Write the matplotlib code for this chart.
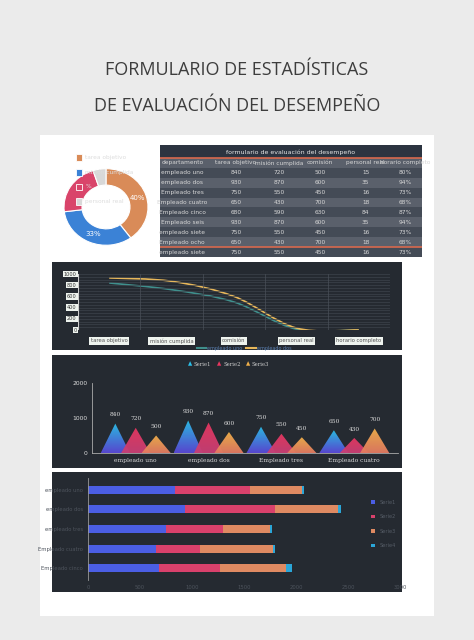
import matplotlib
matplotlib.use("Agg")
import matplotlib.pyplot as plt
import numpy as np
from matplotlib.path import Path
from matplotlib.patches import PathPatch, Polygon, Rectangle
from matplotlib.colors import LinearSegmentedColormap

employees = ["empleado uno", "empleado dos", "Empleado tres", "Empleado cuatro", "Empleado cinco",
             "Empleado seis", "empleado siete", "Empleado ocho", "empleado siete"]
tarea = [840, 930, 750, 650, 680, 930, 750, 650, 750]
mision = [720, 870, 550, 430, 590, 870, 550, 430, 550]
comision = [500, 600, 450, 700, 630, 600, 450, 700, 450]
personal = [15, 35, 16, 18, 84, 35, 16, 18, 16]
horario = ["80%", "94%", "73%", "68%", "87%", "94%", "73%", "68%", "73%"]
columns = ["departamento", "tarea objetivo", "misión cumplida", "comisión", "personal real", "horario completo"]

donut_labels = ["tarea objetivo", "misión cumplida", "%", "personal real"]
donut_vals = [40, 33, 22, 5]
donut_pct = ["40%", "33%", "", ""]

line_cats = ["tarea objetivo", "misión cumplida", "comisión", "personal real", "horario completo"]
line_uno = [840, 720, 500, 15, 0.8]
line_dos = [930, 870, 600, 35, 0.94]

tri_cats = ["empleado uno", "empleado dos", "Empleado tres", "Empleado cuatro"]
tri_s1 = [840, 930, 750, 650]
tri_s2 = [720, 870, 550, 430]
tri_s3 = [500, 600, 450, 700]

bar_cats = ["empleado uno", "empleado dos", "empleado tres", "Empleado cuatro", "Empleado cinco"]
bar_s1 = [840, 930, 750, 650, 680]
bar_s2 = [720, 870, 550, 430, 590]
bar_s3 = [500, 600, 450, 700, 630]
bar_s4 = [15, 35, 16, 18, 64]

W, H = 474, 640
fig = plt.figure(figsize=(4.74, 6.4), dpi=100)
fig.patch.set_facecolor("#ebebeb")

def ax_px(x0, y0, x1, y1, **kw):
    return fig.add_axes([x0 / W, 1 - y1 / H, (x1 - x0) / W, (y1 - y0) / H], **kw)

fig.text(0.5, 1 - 70 / H, "FORMULARIO DE ESTADÍSTICAS", ha="center", va="center",
         fontsize=13, color="#3d3d3d", family="Open Sans")
fig.text(0.5, 1 - 106 / H, "DE EVALUACIÓN DEL DESEMPEÑO", ha="center", va="center",
         fontsize=13, color="#3d3d3d", family="Open Sans")

card = ax_px(40, 135, 434, 616)
card.set_facecolor("white"); card.set_xticks([]); card.set_yticks([])
for s in card.spines.values(): s.set_visible(False)

# --- donut
ad = ax_px(52, 145, 160, 258)
ad.set_facecolor("#18222d")
dcols = ["#d98b58", "#3b82d6", "#d9446a", "#d8d8d8"]
ad.pie(donut_vals, colors=dcols, startangle=90, counterclock=False, radius=1.05, center=(0, -0.15),
       wedgeprops=dict(width=0.45, edgecolor="white", linewidth=0.8))
ad.set_aspect("auto")
ad.set_xlim(-1.35, 1.35); ad.set_ylim(-1.55, 1.55)
ad.set_xticks([]); ad.set_yticks([])
for s in ad.spines.values(): s.set_visible(False)
ang = 90
for v, p in zip(donut_vals, donut_pct):
    mid = np.deg2rad(ang - v * 3.6 / 2); ang -= v * 3.6
    if p:
        ad.text(0.82 * np.cos(mid), 0.82 * np.sin(mid) - 0.15, p, color="white", fontsize=5, ha="center", va="center")
for i, (lab, c) in enumerate(zip(donut_labels, dcols)):
    yy = 1.2 - i * 0.4
    ad.add_patch(Rectangle((-0.75, yy - 0.09), 0.15, 0.18, facecolor=c, edgecolor="white", lw=0.6))
    ad.text(-0.52, yy, lab, color="#dddddd", fontsize=4.2, va="center")

# --- table
at = ax_px(160, 145, 422, 257)
at.set_facecolor("#2c3440"); at.set_xticks([]); at.set_yticks([])
for s in at.spines.values(): s.set_visible(False)
at.set_xlim(0, 1); at.set_ylim(11.3, 0)
at.text(0.5, 0.75, "formulario de evaluación del desempeño", ha="center", va="center", color="#e6e6e6", fontsize=4.5)
colx = [0.085, 0.29, 0.455, 0.61, 0.785, 0.935]
rows = [columns] + [[e, t, m, c, p, h] for e, t, m, c, p, h in zip(employees, tarea, mision, comision, personal, horario)]
for r, row in enumerate(rows):
    y = 1.3 + r
    shade = "#5a606b" if r % 2 == 0 else "#444b56"
    at.add_patch(Rectangle((0, y), 1, 1, facecolor=shade, edgecolor="none"))
    for x, v in zip(colx, row):
        at.text(x, y + 0.5, str(v), ha="center", va="center", color="#d6d6d6", fontsize=4.2)
at.axhline(1.3, color="#d8694e", lw=1.2)
at.axhline(10.3, color="#d8694e", lw=1.2)

# --- line chart
al = ax_px(52, 262, 402, 350)
bg2 = "#252a31"
al.set_facecolor(bg2); al.set_xticks([]); al.set_yticks([])
for s in al.spines.values(): s.set_visible(False)
al2 = ax_px(78, 274, 390, 330)
al2.set_facecolor(bg2)
al2.set_xlim(0, 5); al2.set_ylim(0, 1000)
for yv in np.arange(0, 1001, 50):
    al2.axhline(yv, color="#3d434c", lw=0.5)
for xv in range(6):
    al2.axvline(xv, color="#4a5059", lw=0.5)
def smooth(ax, xs, ys, color):
    pts = np.column_stack([xs, ys])
    verts = [pts[0]]; codes = [Path.MOVETO]
    for i in range(len(pts) - 1):
        p0 = pts[max(i - 1, 0)]; p1 = pts[i]; p2 = pts[i + 1]; p3 = pts[min(i + 2, len(pts) - 1)]
        c1 = p1 + (p2 - p0) / 6; c2 = p2 - (p3 - p1) / 6
        verts += [c1, c2, p2]; codes += [Path.CURVE4] * 3
    ax.add_patch(PathPatch(Path(verts, codes), facecolor="none", edgecolor=color, lw=1.2))
xs = np.arange(len(line_cats)) + 0.5
smooth(al2, xs, line_uno, "#3f8f8c")
smooth(al2, xs, line_dos, "#e7b75a")
al2.set_xticks([]); al2.set_yticks([])
for s in al2.spines.values(): s.set_visible(False)
al2.axvline(0, color="#cccccc", lw=0.8)
for yv in [0, 200, 400, 600, 800, 1000]:
    al2.text(-0.02, yv, str(yv), ha="right", va="center", fontsize=3.6, color="#333",
             bbox=dict(boxstyle="square,pad=0.15", fc="#eef3ee", ec="none"))
for x, c in zip(xs, line_cats):
    al2.text(x, -150, c, ha="center", va="top", fontsize=3.8, color="#555",
             bbox=dict(boxstyle="square,pad=0.3", fc="#eef3ee", ec="none"))
al2.plot([1.9, 2.05], [-330, -330], color="#3f8f8c", lw=1.5, clip_on=False)
al2.text(2.07, -330, "empleado uno", fontsize=3.5, color="#5a7fb0", va="center")
al2.plot([2.7, 2.85], [-330, -330], color="#e7b75a", lw=1.5, clip_on=False)
al2.text(2.87, -330, "empleado dos", fontsize=3.5, color="#5a7fb0", va="center")

# --- triangle chart
ar = ax_px(52, 355, 402, 468)
ar.set_facecolor(bg2); ar.set_xticks([]); ar.set_yticks([])
for s in ar.spines.values(): s.set_visible(False)
ap = ax_px(92, 383, 398, 453)
ap.set_facecolor(bg2)
for s in ["top", "right"]: ap.spines[s].set_visible(False)
ap.spines["left"].set_color("#aaaaaa"); ap.spines["bottom"].set_color("#aaaaaa")
ap.spines["left"].set_linewidth(0.6); ap.spines["bottom"].set_linewidth(0.6)
ap.set_yticks([0, 1000, 2000]); ap.set_xticks(np.arange(4) + 0.5)
ap.set_xticklabels(tri_cats, family="DejaVu Serif")
ap.tick_params(colors="#dddddd", labelsize=4.3, length=0)
grads = [("#5a48d8", "#2bc0ea"), ("#c84075", "#e8365f"), ("#e47a62", "#f0b04a")]
series = [tri_s1, tri_s2, tri_s3]
for si, (vals, (cb, ct)) in enumerate(zip(series, grads)):
    cm = LinearSegmentedColormap.from_list("g%d" % si, [cb, ct])
    for gi, v in enumerate(vals):
        cx = gi + 0.22 + si * 0.28
        hw = 0.2
        im = ap.imshow(np.linspace(0, 1, 64).reshape(-1, 1), cmap=cm, origin="lower",
                       extent=[cx - hw, cx + hw, 0, v], aspect="auto", alpha=0.95, zorder=2 + si)
        poly = Polygon([(cx - hw, 0), (cx, v), (cx + hw, 0)], closed=True, transform=ap.transData,
                       facecolor="none", edgecolor="none")
        ap.add_patch(poly); im.set_clip_path(poly)
        ap.text(cx, v + 180, str(v), ha="center", va="bottom", fontsize=4.2, color="#dddddd", family="DejaVu Serif")
ap.set_xlim(-0.1, 4.1); ap.set_ylim(0, 2000)
for i, (lab, (cb, ct)) in enumerate(zip(["Serie1", "Serie2", "Serie3"], grads)):
    fx = 190 + i * 29
    fig.text(fx / W, 1 - 364 / H, "▲", color=ct, fontsize=4, ha="center", va="center")
    fig.text((fx + 4) / W, 1 - 364 / H, lab, color="#cccccc", fontsize=3.8, va="center", family="DejaVu Serif")

# --- stacked bars
ab = ax_px(52, 472, 402, 592)
ab.set_facecolor(bg2); ab.set_xticks([]); ab.set_yticks([])
for s in ab.spines.values(): s.set_visible(False)
ah = ax_px(88, 478, 400, 580)
ah.set_facecolor(bg2)
bcols = ["#4b5ee4", "#d9416c", "#df8a62", "#2ba6d8"]
y = np.arange(len(bar_cats))
left = np.zeros(len(bar_cats))
for vals, c, lab in zip([bar_s1, bar_s2, bar_s3, bar_s4], bcols, ["Serie1", "Serie2", "Serie3", "Serie4"]):
    ah.barh(y, vals, left=left, color=c, height=0.4, label=lab)
    left += np.array(vals)
ah.set_ylim(len(bar_cats) - 0.4, -0.6)
ah.set_xlim(0, 3000)
for s in ["top", "right", "bottom"]: ah.spines[s].set_visible(False)
ah.spines["left"].set_color("#999999"); ah.spines["left"].set_linewidth(0.6)
ah.set_yticks(y); ah.set_yticklabels(bar_cats)
ah.set_xticks(np.arange(0, 3001, 500))
ah.tick_params(colors="#4d535c", labelsize=3.8, length=0)
ah.legend(loc="center right", bbox_to_anchor=(1.0, 0.55), frameon=False, fontsize=3.6,
          labelcolor="#555c66", handlelength=0.8, handleheight=0.8, labelspacing=1.9)

fig.savefig("out.png", dpi=100, facecolor=fig.get_facecolor())
